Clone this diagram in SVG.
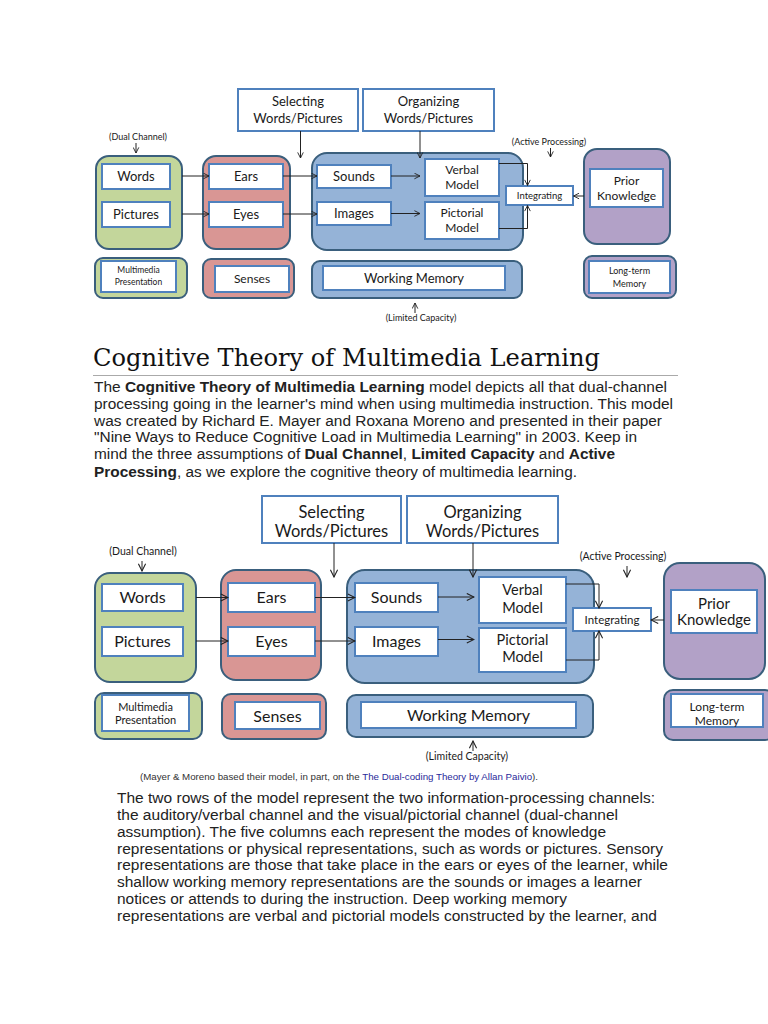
<svg xmlns="http://www.w3.org/2000/svg" width="768" height="1024" viewBox="0 0 768 1024">
<style>
.g{fill:#c3d69b;stroke:#3a5f7d;stroke-width:2}
.p{fill:#d99694;stroke:#3a5f7d;stroke-width:2}
.b{fill:#95b3d7;stroke:#3a5f7d;stroke-width:2}
.v{fill:#b2a1c7;stroke:#3a5f7d;stroke-width:2}
.i{fill:#fff;stroke:#4f81bd;stroke-width:2}
.t{font-family:Lato,"Open Sans",sans-serif;fill:#1a1a1a;text-anchor:middle}
.c{fill:none;stroke:#222;stroke-width:1}
.body{font-family:"Liberation Sans",Arial,sans-serif;font-size:15.5px;fill:#222}
.bold{font-weight:bold}
</style>
<defs>
<marker id="ah" viewBox="0 0 10 10" refX="9" refY="5" markerWidth="7" markerHeight="7" markerUnits="userSpaceOnUse" orient="auto">
<path d="M1,1 L9,5 L1,9" fill="none" stroke="#222" stroke-width="1.3"/>
</marker>
<marker id="ah2" viewBox="0 0 10 10" refX="9" refY="5" markerWidth="9" markerHeight="9" markerUnits="userSpaceOnUse" orient="auto">
<path d="M1,1 L9,5 L1,9" fill="none" stroke="#222" stroke-width="1.2"/>
</marker>
</defs>
<rect width="768" height="1024" fill="#fff"/>

<!-- ===== TOP DIAGRAM ===== -->
<g id="top-diagram">
<g id="t-selecting"><rect class="i" x="238" y="89" width="120" height="42"/><text class="t" font-size="13" x="298" y="105.5">Selecting</text><text class="t" font-size="13" x="298" y="123">Words/Pictures</text></g>
<g id="t-organizing"><rect class="i" x="363" y="89" width="131" height="42"/><text class="t" font-size="13" x="428.5" y="105.5">Organizing</text><text class="t" font-size="13" x="428.5" y="123">Words/Pictures</text></g>
<text class="t" font-size="9" x="138" y="140">(Dual Channel)</text>
<text class="t" font-size="9" x="549" y="145">(Active Processing)</text>
<text class="t" font-size="9" x="421" y="321">(Limited Capacity)</text>

<g id="t-green"><rect class="g" x="96" y="156" width="86" height="93" rx="13"/>
<g id="t-words"><rect class="i" x="102" y="164" width="68" height="25"/><text class="t" font-size="13" x="136" y="180.5">Words</text></g>
<g id="t-pictures"><rect class="i" x="102" y="202" width="68" height="25"/><text class="t" font-size="13" x="136" y="218.5">Pictures</text></g></g>
<g id="t-pink"><rect class="p" x="203" y="156" width="87" height="93" rx="13"/>
<g id="t-ears"><rect class="i" x="209" y="164" width="74" height="25"/><text class="t" font-size="13" x="246" y="180.5">Ears</text></g>
<g id="t-eyes"><rect class="i" x="209" y="202" width="74" height="25"/><text class="t" font-size="13" x="246" y="218.5">Eyes</text></g></g>
<g id="t-blue"><rect class="b" x="312" y="153" width="211" height="97" rx="15"/>
<g id="t-sounds"><rect class="i" x="317" y="165" width="74" height="23"/><text class="t" font-size="13" x="354" y="180.5">Sounds</text></g>
<g id="t-images"><rect class="i" x="317" y="202" width="74" height="23"/><text class="t" font-size="13" x="354" y="218">Images</text></g>
<g id="t-verbal"><rect class="i" x="425" y="159" width="74" height="37"/><text class="t" font-size="12" x="462" y="173.5">Verbal</text><text class="t" font-size="12" x="462" y="188.5">Model</text></g>
<g id="t-pictorial"><rect class="i" x="425" y="202" width="74" height="37"/><text class="t" font-size="12" x="462" y="216.5">Pictorial</text><text class="t" font-size="12" x="462" y="231.5">Model</text></g></g>
<g id="t-integrating"><rect class="i" x="506" y="186" width="67" height="19"/><text class="t" font-size="9.5" x="539.5" y="199">Integrating</text></g>
<g id="t-purple"><rect class="v" x="584" y="149" width="86" height="95" rx="13"/>
<g id="t-prior"><rect class="i" x="590" y="169" width="73" height="38"/><text class="t" font-size="12" x="626.5" y="185">Prior</text><text class="t" font-size="12" x="626.5" y="199.5">Knowledge</text></g></g>

<g id="t-multimedia"><rect class="g" x="95" y="258" width="92" height="40" rx="8"/><rect class="i" x="101" y="261" width="75" height="31"/><text class="t" font-size="8.5" x="138.5" y="273">Multimedia</text><text class="t" font-size="8.5" x="138.5" y="285">Presentation</text></g>
<g id="t-senses"><rect class="p" x="203" y="259" width="91" height="39" rx="8"/><rect class="i" x="215" y="266" width="74" height="26"/><text class="t" font-size="12" x="252" y="283">Senses</text></g>
<g id="t-working"><rect class="b" x="312" y="261" width="210" height="37" rx="8"/><rect class="i" x="323" y="266" width="182" height="24"/><text class="t" font-size="13" x="414" y="282.5">Working Memory</text></g>
<g id="t-longterm"><rect class="v" x="584" y="256" width="92" height="42" rx="8"/><rect class="i" x="589" y="261" width="81" height="32"/><text class="t" font-size="9" x="629.5" y="273.5">Long-term</text><text class="t" font-size="9" x="629.5" y="287">Memory</text></g>

<g id="t-connectors">
<path class="c" marker-end="url(#ah)" d="M136,143 V153"/>
<path class="c" marker-end="url(#ah)" d="M550.5,148 V157"/>
<path class="c" marker-end="url(#ah)" d="M415,313 V303"/>
<path class="c" marker-end="url(#ah)" d="M300.5,131 V158"/>
<path class="c" marker-end="url(#ah)" d="M420,131 V158"/>
<path class="c" marker-end="url(#ah)" d="M182,176 H209"/>
<path class="c" marker-end="url(#ah)" d="M182,214 H209"/>
<path class="c" marker-end="url(#ah)" d="M283,176 H317"/>
<path class="c" marker-end="url(#ah)" d="M283,214 H317"/>
<path class="c" marker-end="url(#ah)" d="M391,176 H420"/>
<path class="c" marker-end="url(#ah)" d="M391,213.5 H420"/>
<path class="c" marker-end="url(#ah)" d="M499,163.5 H527.5 V185.5"/>
<path class="c" marker-end="url(#ah)" d="M499,228.5 H527.5 V205.5"/>
<path class="c" marker-end="url(#ah)" d="M584,196 H573.5"/>
</g>
</g>

<!-- ===== HEADING & TEXT ===== -->
<text x="93" y="366" font-family="'DejaVu Serif','Liberation Serif',serif" font-size="25" fill="#111" textLength="507" lengthAdjust="spacingAndGlyphs">Cognitive Theory of Multimedia Learning</text>
<line x1="93" y1="375.5" x2="678" y2="375.5" stroke="#aaa" stroke-width="1"/>
<text class="body" x="94" y="392" textLength="573" lengthAdjust="spacingAndGlyphs">The <tspan class="bold">Cognitive Theory of Multimedia Learning</tspan> model depicts all that dual-channel</text>
<text class="body" x="94" y="408.5" textLength="579" lengthAdjust="spacingAndGlyphs">processing going in the learner's mind when using multimedia instruction. This model</text>
<text class="body" x="94" y="425.5" textLength="568" lengthAdjust="spacingAndGlyphs">was created by Richard E. Mayer and Roxana Moreno and presented in their paper</text>
<text class="body" x="94" y="442" textLength="543" lengthAdjust="spacingAndGlyphs">"Nine Ways to Reduce Cognitive Load in Multimedia Learning" in 2003. Keep in</text>
<text class="body" x="94" y="459" textLength="521" lengthAdjust="spacingAndGlyphs">mind the three assumptions of <tspan class="bold">Dual Channel</tspan>, <tspan class="bold">Limited Capacity</tspan> and <tspan class="bold">Active</tspan></text>
<text class="body" x="94" y="476.5" textLength="483" lengthAdjust="spacingAndGlyphs"><tspan class="bold">Processing</tspan>, as we explore the cognitive theory of multimedia learning.</text>

<!-- ===== BOTTOM DIAGRAM ===== -->
<g id="bottom-diagram">
<g id="b-selecting"><rect class="i" x="262" y="496" width="139" height="47"/><text class="t" font-size="16.5" x="331.5" y="517.5">Selecting</text><text class="t" font-size="16.5" x="331.5" y="536.5">Words/Pictures</text></g>
<g id="b-organizing"><rect class="i" x="407" y="496" width="151" height="47"/><text class="t" font-size="16.5" x="482.5" y="517.5">Organizing</text><text class="t" font-size="16.5" x="482.5" y="536.5">Words/Pictures</text></g>
<text class="t" font-size="10.5" x="143" y="555">(Dual Channel)</text>
<text class="t" font-size="10.5" x="623" y="560">(Active Processing)</text>
<text class="t" font-size="10.5" x="467" y="760">(Limited Capacity)</text>

<g id="b-green"><rect class="g" x="95" y="573" width="101" height="109" rx="15"/>
<g id="b-words"><rect class="i" x="102" y="584" width="81" height="27"/><text class="t" font-size="16" x="142.5" y="603">Words</text></g>
<g id="b-pictures"><rect class="i" x="102" y="627" width="81" height="29"/><text class="t" font-size="16" x="142.5" y="646.5">Pictures</text></g></g>
<g id="b-pink"><rect class="p" x="221" y="570" width="100" height="110" rx="15"/>
<g id="b-ears"><rect class="i" x="228" y="583" width="87" height="29"/><text class="t" font-size="16" x="271.5" y="603">Ears</text></g>
<g id="b-eyes"><rect class="i" x="228" y="627" width="87" height="29"/><text class="t" font-size="16" x="271.5" y="646.5">Eyes</text></g></g>
<g id="b-blue"><rect class="b" x="347" y="570" width="247" height="113" rx="18"/>
<g id="b-sounds"><rect class="i" x="355" y="583" width="83" height="29"/><text class="t" font-size="16" x="396.5" y="603">Sounds</text></g>
<g id="b-images"><rect class="i" x="355" y="627" width="83" height="29"/><text class="t" font-size="16" x="396.5" y="646.5">Images</text></g>
<g id="b-verbal"><rect class="i" x="479" y="577" width="87" height="46"/><text class="t" font-size="14.5" x="522.5" y="595">Verbal</text><text class="t" font-size="14.5" x="522.5" y="612.5">Model</text></g>
<g id="b-pictorial"><rect class="i" x="479" y="628" width="87" height="44"/><text class="t" font-size="14.5" x="522.5" y="644.5">Pictorial</text><text class="t" font-size="14.5" x="522.5" y="662">Model</text></g></g>
<g id="b-integrating"><rect class="i" x="573" y="608" width="78" height="23"/><text class="t" font-size="11.5" x="612" y="624">Integrating</text></g>
<g id="b-purple"><rect class="v" x="664" y="563" width="101" height="116" rx="16"/>
<g id="b-prior"><rect class="i" x="671" y="590" width="86" height="43"/><text class="t" font-size="15" x="714" y="608.5">Prior</text><text class="t" font-size="15" x="714" y="625">Knowledge</text></g></g>

<g id="b-multimedia"><rect class="g" x="95" y="693" width="107" height="46" rx="9"/><rect class="i" x="102" y="695" width="87" height="36"/><text class="t" font-size="11" x="145.5" y="710.5">Multimedia</text><text class="t" font-size="11" x="145.5" y="724">Presentation</text></g>
<g id="b-senses"><rect class="p" x="222" y="694" width="104" height="45" rx="9"/><rect class="i" x="235" y="702" width="85" height="27"/><text class="t" font-size="16" x="277.5" y="721.5">Senses</text></g>
<g id="b-working"><rect class="b" x="347" y="695" width="246" height="42" rx="9"/><rect class="i" x="361" y="702" width="215" height="26"/><text class="t" font-size="16" x="468.5" y="721">Working Memory</text></g>
<g id="b-longterm"><rect class="v" x="664" y="690" width="110" height="50" rx="9"/><rect class="i" x="671" y="694" width="92" height="33"/><text class="t" font-size="12" x="717" y="710.5">Long-term</text><text class="t" font-size="12" x="717" y="724.5">Memory</text></g>

<g id="b-connectors">
<path class="c" marker-end="url(#ah2)" d="M142,561 V571"/>
<path class="c" marker-end="url(#ah2)" d="M627,566 V577"/>
<path class="c" marker-end="url(#ah2)" d="M473,751 V741"/>
<path class="c" marker-end="url(#ah2)" d="M334,543 V577"/>
<path class="c" marker-end="url(#ah2)" d="M473,543 V577"/>
<path class="c" marker-end="url(#ah2)" d="M196,597.5 H228"/>
<path class="c" marker-end="url(#ah2)" d="M196,641 H228"/>
<path class="c" marker-end="url(#ah2)" d="M315,597.5 H355"/>
<path class="c" marker-end="url(#ah2)" d="M315,641 H355"/>
<path class="c" marker-end="url(#ah2)" d="M438,597 H474"/>
<path class="c" marker-end="url(#ah2)" d="M438,639.5 H474"/>
<path class="c" marker-end="url(#ah2)" d="M566,584 H599 V608"/>
<path class="c" marker-end="url(#ah2)" d="M566,660 H599 V631"/>
<path class="c" marker-end="url(#ah2)" d="M664,620 H651"/>
</g>
</g>

<!-- ===== CAPTION & TEXT ===== -->
<text x="140" y="780" font-family="'Liberation Sans',Arial,sans-serif" font-size="9.5" fill="#333" textLength="398" lengthAdjust="spacingAndGlyphs">(Mayer &amp; Moreno based their model, in part, on the <tspan fill="#2a2a9a">The Dual-coding Theory by Allan Paivio</tspan>).</text>
<text class="body" x="117" y="803" textLength="538" lengthAdjust="spacingAndGlyphs">The two rows of the model represent the two information-processing channels:</text>
<text class="body" x="117" y="820" textLength="501" lengthAdjust="spacingAndGlyphs">the auditory/verbal channel and the visual/pictorial channel (dual-channel</text>
<text class="body" x="117" y="836.5" textLength="489" lengthAdjust="spacingAndGlyphs">assumption). The five columns each represent the modes of knowledge</text>
<text class="body" x="117" y="853.5" textLength="546" lengthAdjust="spacingAndGlyphs">representations or physical representations, such as words or pictures. Sensory</text>
<text class="body" x="117" y="870" textLength="551" lengthAdjust="spacingAndGlyphs">representations are those that take place in the ears or eyes of the learner, while</text>
<text class="body" x="117" y="887" textLength="525" lengthAdjust="spacingAndGlyphs">shallow working memory representations are the sounds or images a learner</text>
<text class="body" x="117" y="904" textLength="450" lengthAdjust="spacingAndGlyphs">notices or attends to during the instruction. Deep working memory</text>
<text class="body" x="117" y="921" textLength="540" lengthAdjust="spacingAndGlyphs">representations are verbal and pictorial models constructed by the learner, and</text>
</svg>
